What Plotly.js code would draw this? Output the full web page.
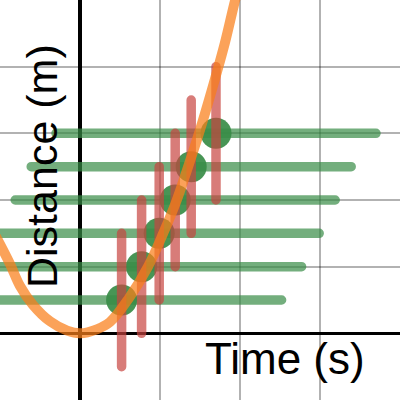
<!DOCTYPE html>
<html>
<head>
<meta charset="utf-8">
<script src="https://cdn.plot.ly/plotly-3.0.1.min.js"></script>
<style>
  html, body { margin: 0; padding: 0; background: #fff; }
  #chart { width: 400px; height: 400px; }
  .errorbar path { stroke-linecap: round; }
  path.js-line { stroke-linecap: round; }
</style>
</head>
<body>
<div id="chart"></div>
<script>
// Measured points
const timeVals = [0.52, 0.77, 0.99, 1.19, 1.39, 1.70];
const distVals = [0.5, 1.0, 1.5, 2.0, 2.5, 3.0];
const timeErr = [2, 2, 2, 2, 2, 2];
const distErr = [1, 1, 1, 1, 1, 1];

// Curve
const curveT = [-1.05, -0.875, -0.75, -0.59, -0.375, -0.16, 0, 0.21, 0.375, 0.61, 0.85, 1.04, 1.21, 1.31, 1.5, 1.66, 1.81, 1.94, 2.02];
const curveD = [1.45, 1.04, 0.71, 0.43, 0.18, 0.04, 0, 0.06, 0.17, 0.525, 1.0, 1.5, 2.0, 2.35, 3.05, 3.7, 4.35, 5.0, 5.35];

const xTitle = "Time (s)";
const yTitle = "Distance (m)";

const green = "rgba(56,140,70,0.7)";
const greenPt = "rgba(56,140,70,0.92)";
const red = "rgba(199,68,64,0.7)";
const orange = "rgba(250,126,25,0.72)";

const traces = [
  {
    x: timeVals, y: distVals, type: "scatter", mode: "markers",
    marker: {size: 1, color: "rgba(0,0,0,0)"},
    error_x: {type: "data", array: timeErr, visible: true, color: green, thickness: 9.5, width: 0},
    hoverinfo: "skip"
  },
  {
    x: timeVals, y: distVals, type: "scatter", mode: "markers",
    marker: {size: 31, color: greenPt, line: {width: 0}},
    hoverinfo: "skip"
  },
  {
    x: timeVals, y: distVals, type: "scatter", mode: "markers",
    marker: {size: 1, color: "rgba(0,0,0,0)"},
    error_y: {type: "data", array: distErr, visible: true, color: red, thickness: 9.5, width: 0},
    hoverinfo: "skip"
  },
  {
    x: curveT, y: curveD, type: "scatter", mode: "lines",
    line: {color: orange, width: 10, shape: "spline", smoothing: 1},
    hoverinfo: "skip"
  }
];

const axisCommon = {
  dtick: 1, showgrid: true, gridcolor: "rgba(0,0,0,0.3)", gridwidth: 2,
  zeroline: true, zerolinecolor: "#000", zerolinewidth: 3.5,
  showticklabels: false, ticks: "", showline: false, fixedrange: true
};

const layout = {
  width: 400, height: 400,
  margin: {l: 0, r: 0, t: 0, b: 0, pad: 0},
  paper_bgcolor: "#fff", plot_bgcolor: "#fff",
  showlegend: false,
  xaxis: Object.assign({range: [-1, 4], tick0: 0}, axisCommon),
  yaxis: Object.assign({range: [-1, 5], tick0: 0}, axisCommon),
  annotations: [
    {text: xTitle, xref: "paper", yref: "paper", x: 203/400, y: 1 - 358/400,
     xanchor: "left", yanchor: "middle", showarrow: false,
     font: {family: "Liberation Sans, Arial, sans-serif", size: 44, color: "#000"}},
    {text: yTitle, xref: "paper", yref: "paper", x: 42/400, y: 1 - 166/400,
     xanchor: "center", yanchor: "middle", showarrow: false, textangle: -90,
     font: {family: "Liberation Sans, Arial, sans-serif", size: 43, color: "#000"}}
  ]
};

Plotly.newPlot("chart", traces, layout, {staticPlot: true, displayModeBar: false});
</script>
</body>
</html>
